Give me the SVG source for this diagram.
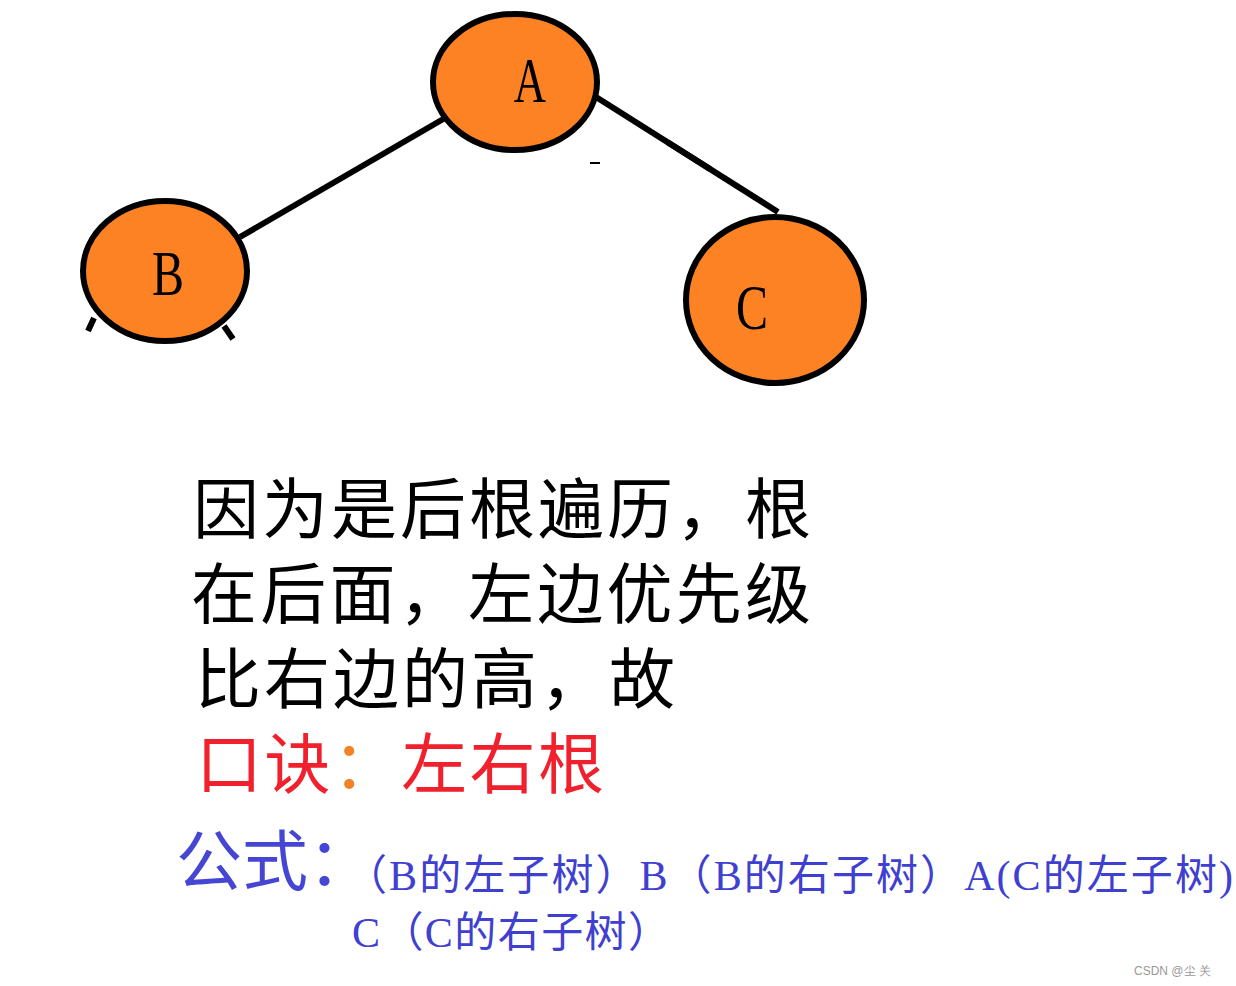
<svg xmlns="http://www.w3.org/2000/svg" width="1236" height="986" viewBox="0 0 1236 986">
<style>
.node{fill:#fd8224;stroke:#000;stroke-width:6}
.lbl{font-family:"Liberation Serif",serif;font-size:64px;fill:#000}
.edge{stroke:#000;stroke-width:6;fill:none;stroke-linecap:butt}
.cn{font-family:"Noto Sans CJK SC",sans-serif;font-size:66px;fill:#000}
.red{fill:#f0202c}
.org{fill:#f08424}
.blue{fill:#4646d4}
.f{font-family:"Liberation Serif","Noto Sans CJK SC",serif;font-size:42px;fill:#4040d0}
.wm{font-family:"Liberation Sans",sans-serif;font-size:12px;fill:#999}
</style>
<rect width="1236" height="986" fill="#fff"/>
<g id="connectors">
<line class="edge" x1="445" y1="118" x2="240" y2="237"/>
<line class="edge" x1="596" y1="97" x2="778" y2="212"/>
<line class="edge" x1="668" y1="142.5" x2="710" y2="169" stroke-width="9"/>
<line x1="590" y1="163" x2="600" y2="163" stroke="#000" stroke-width="2"/>
<path class="edge" d="M88,331 L94,318" stroke-width="4"/>
<path class="edge" d="M233,339 L224,326" stroke-width="4"/>
</g>
<g id="node-A">
<ellipse class="node" cx="515" cy="82" rx="82" ry="68"/>
<text class="lbl" transform="translate(530,102) scale(0.7,1)" text-anchor="middle">A</text>
</g>
<g id="node-B">
<ellipse class="node" cx="165" cy="271" rx="82" ry="70"/>
<text class="lbl" transform="translate(168,295) scale(0.75,1)" text-anchor="middle">B</text>
</g>
<g id="node-C">
<ellipse class="node" cx="775" cy="300" rx="89" ry="83"/>
<text class="lbl" transform="translate(752,329) scale(0.75,1)" text-anchor="middle">C</text>
</g>
<g id="explanation">
<text class="cn" x="193" y="533" textLength="618" lengthAdjust="spacing">因为是后根遍历，根</text>
<text class="cn" x="191" y="618" textLength="620" lengthAdjust="spacing">在后面，左边优先级</text>
<text class="cn" x="195" y="703" textLength="480" lengthAdjust="spacing">比右边的高，故</text>
<text class="cn" x="196" y="788" textLength="408" lengthAdjust="spacing"><tspan class="red">口诀</tspan><tspan class="org">：</tspan><tspan class="red">左右根</tspan></text>
</g>
<g id="formula">
<text class="cn blue" x="176" y="885" font-size="62">公式：</text>
<text class="f" x="345" y="890" textLength="888" lengthAdjust="spacing">（B的左子树）B（B的右子树）A(C的左子树)</text>
<text class="f" x="352" y="947" textLength="318" lengthAdjust="spacing">C（C的右子树）</text>
</g>
<text class="wm" x="1134" y="975">CSDN @尘 关</text>
</svg>
